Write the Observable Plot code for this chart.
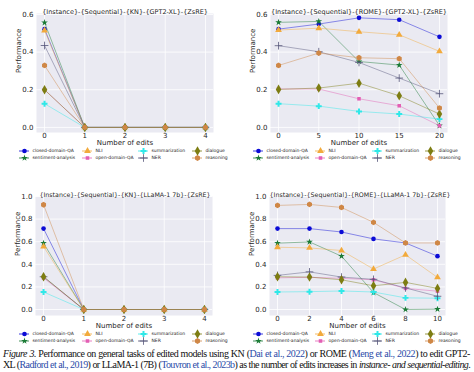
<!DOCTYPE html>
<html><head><meta charset="utf-8">
<script src="https://cdn.jsdelivr.net/npm/d3@7"></script>
<script src="https://cdn.jsdelivr.net/npm/@observablehq/plot@0.6"></script>
<style>
body{margin:0;background:#fff;}
#root{position:relative;width:474px;height:372px;overflow:hidden;font-family:"DejaVu Sans",sans-serif;}
#root svg{position:absolute;}
.cap{position:absolute;left:3px;font-family:"Liberation Serif",serif;font-size:10px;line-height:11px;white-space:nowrap;color:#111;}
.cap a{color:#2b4ba8;text-decoration:none;}
</style></head><body><div id="root"></div>
<script>
// ---------- data ----------
const tasks = ["closed-domain-QA","sentiment-analysis","NLI","open-domain-QA","summarization","NER","dialogue","reasoning"];
const colors = ["#0b0bd6","#1a7a35","#f2aa3c","#e35fb4","#30e8e8","#55557a","#7d7d12","#cf8746"];
const symbols = ["circle","star","triangle","square","cross","plus","diamond","hexagon"];
const sizes = [2.3,2.1,2.5,2.0,2.5,2.6,2.9,2.5];

const editsKn = [0,1,2,3,4];
const editsRomeGpt2 = [0,5,10,15,20];
const editsRomeLlama = [0,2,4,6,8,10];

const knGpt2 = [
  [0.522,0,0,0,0],
  [0.557,0,0,0,0],
  [0.515,0,0,0,0],
  [0.200,0,0,0,0],
  [0.126,0,0,0,0],
  [0.435,0,0,0,0],
  [0.200,0,0,0,0],
  [0.329,0,0,0,0]
];
const romeGpt2 = [
  [0.522,0.549,0.582,0.572,0.481],
  [0.558,0.563,0.350,0.331,0.010],
  [0.517,0.527,0.508,0.492,0.404],
  [0.204,0.204,0.152,0.115,0.009],
  [0.126,0.113,0.085,0.071,0.044],
  [0.434,0.402,0.345,0.262,0.179],
  [0.202,0.209,0.235,0.168,0.071],
  [0.329,0.395,0.370,0.365,0.103]
];
const knLlama = [
  [0.716,0,0,0,0],
  [0.587,0,0,0,0],
  [0.557,0,0,0,0],
  [0.280,0,0,0,0],
  [0.155,0,0,0,0],
  [0.290,0,0,0,0],
  [0.290,0,0,0,0],
  [0.927,0,0,0,0]
];
const romeLlama = [
  [0.716,0.716,0.686,0.625,0.589,0.472],
  [0.587,0.598,0.472,0.150,0.000,0.003],
  [0.551,0.545,0.522,0.358,0.484,0.284],
  [0.280,0.285,0.276,0.263,0.187,0.162],
  [0.155,0.158,0.164,0.155,0.103,0.100],
  [0.302,0.333,0.287,0.267,0.191,0.117],
  [0.290,0.287,0.263,0.210,0.240,0.187],
  [0.921,0.930,0.903,0.771,0.589,0.589]
];

const yTicksSmall = [0,0.2,0.4,0.6];
const yTicksBig = [0,0.2,0.4,0.6,0.8,1.0];

const titles = [
  "{Instance}-{Sequential}-{KN}-{GPT2-XL}-{ZsRE}",
  "{Instance}-{Sequential}-{ROME}-{GPT2-XL}-{ZsRE}",
  "{Instance}-{Sequential}-{KN}-{LLaMA-1 7b}-{ZsRE}",
  "{Instance}-{Sequential}-{ROME}-{LLaMA-1 7b}-{ZsRE}"
];

// ---------- layout ----------
const root = document.getElementById("root");
const baseStyle = {background:"transparent", overflow:"visible", fontFamily:"DejaVu Sans, sans-serif", fontSize:"7px", color:"#262626"};

function panel(cfg) {
  const marks = [
    Plot.frame({fill:"#eaeaf2", stroke:null}),
    Plot.gridX({ticks: cfg.edits, stroke:"white", strokeOpacity:1, strokeWidth:0.8}),
    Plot.gridY({ticks: cfg.yTicks, stroke:"white", strokeOpacity:1, strokeWidth:0.8}),
    Plot.axisX({ticks: cfg.edits, tickSize:0, tickPadding:1, label:null, tickFormat: d3.format("d")}),
    Plot.axisY({ticks: cfg.yTicks, tickSize:0, tickPadding:3, label:null, tickFormat: d3.format(".1f")}),
    Plot.text([cfg.title], {frameAnchor:"top", dy:cfg.titleDy, dx:cfg.titleDx, fontSize:cfg.titleSize, fill:"#262626"}),
    Plot.text(["Number of edits"], {frameAnchor:"bottom", dy:12.5, fontSize:7, fill:"#262626"}),
    Plot.text(["Performance"], {frameAnchor:"left", dx:cfg.ylabDx, rotate:-90, fontSize:7, fill:"#262626"})
  ];
  tasks.forEach((t, i) => {
    const pts = cfg.edits.map((e, j) => ({edit:e, value:cfg.values[i][j]}));
    marks.push(Plot.line(pts, {x:"edit", y:"value", stroke:colors[i], strokeOpacity:0.5, strokeWidth:0.9}));
    if (symbols[i] === "plus") {
      marks.push(Plot.dot(pts, {x:"edit", y:"value", symbol:"plus", stroke:colors[i], strokeWidth:0.8, r:sizes[i]}));
    } else {
      marks.push(Plot.dot(pts, {x:"edit", y:"value", symbol:symbols[i], fill:colors[i], stroke:null, r:sizes[i]}));
    }
  });
  const svg = Plot.plot({
    width:237, height:150,
    marginLeft:cfg.ml, marginRight:cfg.mr, marginTop:13, marginBottom:18,
    x:{domain:cfg.xDomain, label:null},
    y:{domain:cfg.yDomain, label:null},
    style: baseStyle,
    marks
  });
  svg.style.left = cfg.left + "px";
  svg.style.top = cfg.top + "px";
  root.appendChild(svg);

  // legend
  const items = tasks.map((t, i) => ({task:t, i, cx: cfg.legendCols[Math.floor(i/2)], row: i % 2}));
  const lmarks = [];
  items.forEach(d => {
    lmarks.push(Plot.ruleY([d], {y:"row", x1: d.cx - 5, x2: d.cx + 5, stroke:colors[d.i], strokeWidth:0.8}));
    if (symbols[d.i] === "plus") {
      lmarks.push(Plot.dot([d], {x:"cx", y:"row", symbol:"plus", stroke:colors[d.i], strokeWidth:0.8, r:sizes[d.i]}));
    } else {
      lmarks.push(Plot.dot([d], {x:"cx", y:"row", symbol:symbols[d.i], fill:colors[d.i], stroke:null, r:sizes[d.i]}));
    }
  });
  lmarks.push(Plot.text(items, {x: d => d.cx + 8, y:"row", text:"task", textAnchor:"start", fontSize:4.5, fill:"#222"}));
  const leg = Plot.plot({
    width:237, height:16, margin:0,
    x:{type:"linear", domain:[0,237], range:[0,237], axis:null},
    y:{type:"linear", domain:[0,1], range:[7.5,14.5], axis:null},
    style: baseStyle,
    marks: lmarks
  });
  leg.style.left = cfg.left + "px";
  leg.style.top = (cfg.top + 143) + "px";
  root.appendChild(leg);
}

panel({left:0, top:0, ml:36, mr:24, edits:editsKn, values:knGpt2, xDomain:[-0.2,4.2], yDomain:[-0.027,0.605], yTicks:yTicksSmall, title:titles[0], titleDy:-4, titleDx:0, titleSize:6.5, ylabDx:-18, legendCols:[24,87,143,197]});
panel({left:237, top:0, ml:33, mr:27, edits:editsRomeGpt2, values:romeGpt2, xDomain:[-1,21], yDomain:[-0.027,0.605], yTicks:yTicksSmall, title:titles[1], titleDy:-4, titleDx:0, titleSize:6.5, ylabDx:-18, legendCols:[21,83,140,193]});
panel({left:0, top:183, ml:35, mr:25, edits:editsKn, values:knLlama, xDomain:[-0.2,4.2], yDomain:[-0.053,1.0], yTicks:yTicksBig, title:titles[2], titleDy:-3.5, titleDx:1, titleSize:6.3, ylabDx:-18, legendCols:[24,87,143,197]});
panel({left:237, top:183, ml:32, mr:29, edits:editsRomeLlama, values:romeLlama, xDomain:[-0.5,10.5], yDomain:[-0.053,1.0], yTicks:yTicksBig, title:titles[3], titleDy:-3.5, titleDx:2.5, titleSize:6.3, ylabDx:-18, legendCols:[21,83,140,193]});

// ---------- caption ----------
const capLines = [
  '<i>Figure 3.</i> Performance on general tasks of edited models using KN (<a>Dai et al., 2022</a>) or ROME (<a>Meng et al., 2022</a>) to edit GPT2-',
  'XL (<a>Radford et al., 2019</a>) or LLaMA-1 (7B) (<a>Touvron et al., 2023b</a>) as the number of edits increases in <i>instance- and sequential-editing</i>.'
];
const capTops = [348, 359];
const capWidth = 467;
capLines.forEach((html, k) => {
  const div = document.createElement("div");
  div.className = "cap";
  div.style.top = capTops[k] + "px";
  div.innerHTML = html;
  root.appendChild(div);
  const w = div.getBoundingClientRect().width;
  const text = div.textContent;
  const spaces = (text.match(/ /g) || []).length;
  if (w > capWidth - spaces * 0.3) {
    const extraWs = 0.3;
    div.style.wordSpacing = extraWs + "px";
    const w2 = div.getBoundingClientRect().width;
    div.style.letterSpacing = ((capWidth - w2) / text.length) + "px";
  } else {
    div.style.wordSpacing = ((capWidth - w) / spaces) + "px";
  }
});
</script></body></html>
